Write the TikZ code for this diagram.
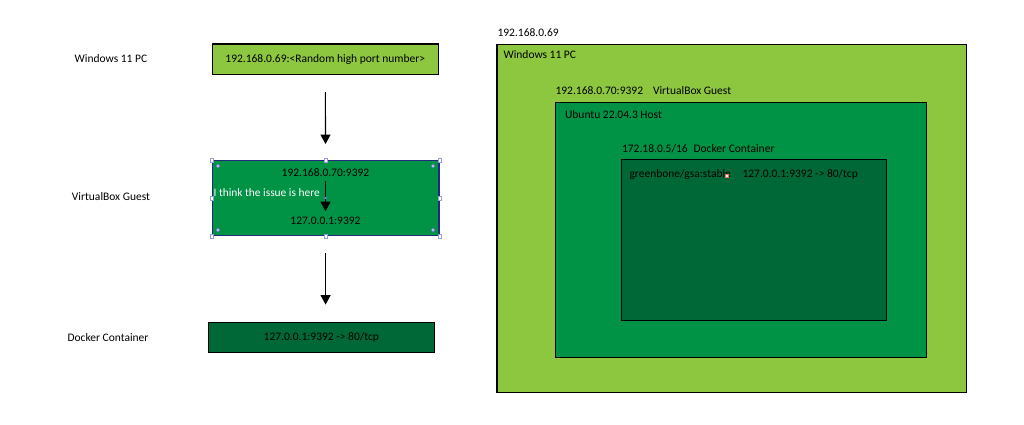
\documentclass[tikz,border=0pt]{standalone}
\usepackage{fontspec}
\setmainfont{Carlito}
\usetikzlibrary{arrows.meta}
\definecolor{pcGreen}{HTML}{8DC63F}
\definecolor{hostGreen}{HTML}{009245}
\definecolor{dockerGreen}{HTML}{006837}
\definecolor{handleBlue}{HTML}{2E3FB0}
\begin{document}
\begin{tikzpicture}[->,>={Stealth[length=9.5pt,width=10pt,inset=0pt]}, x=1pt, y=-1pt, line width=1.1pt]
        \tikzset{
           plainText/.style={
                        inner sep=0pt,
                        text=black,
                        font=\fontsize{11.5}{13}\selectfont
                       },
           leftText/.style={
                        plainText,
                        anchor=west
                       },
           hopBox/.style={
                        rectangle,
                        draw=black,
                        line width=1.3pt,
                        minimum width=226pt,
                        minimum height=30.5pt,
                        inner sep=0pt,
                        text=black,
                        font=\fontsize{11.5}{13}\selectfont
                       },
           layerBox/.style={
                        rectangle,
                        draw=black,
                        line width=1.1pt,
                        anchor=north west,
                        inner sep=0pt
                       },
           handle/.style={
                        rectangle,
                        draw=handleBlue!50,
                        fill=white,
                        line width=0.5pt,
                        minimum size=3.5pt,
                        inner sep=0pt
                       },
           cornerDot/.style={
                        circle,
                        draw=handleBlue!70,
                        fill=white,
                        line width=1pt,
                        minimum size=3.5pt,
                        inner sep=0pt
                       },
                 };
    \useasboundingbox (0,0) rectangle (1024,424);
    %--------------------
        \node[plainText]  (pcLabel)     at (111,59)    {Windows 11 PC};
        \node[plainText]  (guestLabel)  at (111,197)   {VirtualBox Guest};
        \node[plainText]  (dockerLabel) at (108,337.5) {Docker Container};

        \node[hopBox, fill=pcGreen]     (pcHop)     at (325.3,59.2)  {192.168.0.69:<Random high port number>};
        \node[hopBox, fill=hostGreen, draw=handleBlue!70!black, minimum width=226.7pt, minimum height=75pt]
                                        (guestHop)  at (325.6,198.2) {};
        \node[hopBox, fill=dockerGreen] (dockerHop) at (321.3,337.5) {127.0.0.1:9392 -> 80/tcp};

        \node[plainText]  (guestIp)  at (325.5,173) {192.168.0.70:9392};
        \node[plainText]  (localIp)  at (325.5,220.5) {127.0.0.1:9392};
        \node[leftText, text=white, font=\fontsize{11.4}{14}\selectfont] (issue) at (213,192.5) {I think the issue is here};

        \foreach \a in {north west,north,north east,west,east,south west,south,south east}
            \node[handle] (h \a) at (guestHop.\a) {};
        \node[cornerDot] (dotA) at (218,166) {};
        \node[cornerDot] (dotB) at (433,166) {};
        \node[cornerDot] (dotC) at (218,230) {};
        \node[cornerDot] (dotD) at (433,230) {};
    %--------------------
        \node[layerBox, fill=pcGreen,     minimum width=469.5pt, minimum height=348.7pt] (pcLayer)     at (496.4,43.6)  {};
        \node[layerBox, fill=hostGreen,   minimum width=371pt,   minimum height=255pt]   (hostLayer)   at (555,102) {};
        \node[layerBox, fill=dockerGreen, minimum width=265pt,   minimum height=161pt]   (dockerLayer) at (620.7,159) {};

        \node[leftText] (pcIp)       at (497,32.5)  {192.168.0.69};
        \node[leftText] (pcName)     at (503,55)    {Windows 11 PC};
        \node[leftText] (hostIp)     at (555,91)    {192.168.0.70:9392};
        \node[leftText] (hostName)   at (652.5,91)  {VirtualBox Guest};
        \node[leftText] (ubuntuName) at (564.5,114.5) {Ubuntu 22.04.3 Host};
        \node[leftText] (dockerIp)   at (621.5,148.5) {172.18.0.5/16};
        \node[leftText] (dockerName) at (693,148.5) {Docker Container};
        \node[leftText] (imageName)  at (629,174.5) {greenbone/gsa:stable};
        \node[leftText] (portMap)    at (742,174.5) {127.0.0.1:9392 -> 80/tcp};
        \node[rectangle, draw=red!60, fill=white, line width=0.8pt, minimum size=3pt, inner sep=0pt] (mark) at (727,175.5) {};
    %--------------------
        \path (pcHop.south)    edge[shorten <=17pt, shorten >=16pt] (guestHop.north)
              (guestHop.south) edge[shorten <=17pt, shorten >=17pt] (guestHop.south |- dockerHop.north)
              (guestIp.south)  edge[shorten <=3pt, shorten >=5pt]   (localIp.north);
        \node[rectangle, fill=handleBlue!70, minimum width=3pt, minimum height=2pt, inner sep=0pt] (centerMark) at (guestHop.center) {};
    \end{tikzpicture}
\end{document}
